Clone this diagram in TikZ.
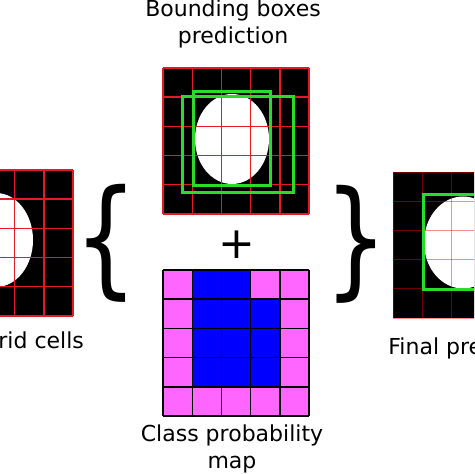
\documentclass[tikz,border=0pt]{standalone}
\usepackage{fontspec}
\setmainfont{DejaVu Sans}
\definecolor{boxgreen}{RGB}{40,220,40}
\definecolor{cellpink}{RGB}{255,102,255}
\definecolor{cellblue}{RGB}{0,0,255}
\definecolor{gridred}{RGB}{230,25,40}
\tikzset{
  gridline/.style={gridred,line width=.7pt},
  fadeline/.style={red,line width=.45pt,opacity=.45},
  greenbox/.style={boxgreen,line width=1.5pt},
  caption/.style={font=\fontsize{11}{13.8}\selectfont,align=center,inner sep=0pt},
  bracesign/.style={font=\fontsize{64}{64}\selectfont,inner sep=0pt,xscale=.78}
}
\begin{document}
\begin{tikzpicture}[x=.5pt,y=-.5pt]
\clip (0,0) rectangle (474,474);
\fill[white] (0,0) rectangle (474,474);
% grid cells
\fill[black] (-73,170) rectangle (73,316);
\fill[white] (-4,240) ellipse (37 and 47);
\foreach \i in {0,...,5} {
  \draw[gridline] (-73+29.2*\i,170) -- (-73+29.2*\i,316);
  \draw[gridline] (-73,170+29.2*\i) -- (73,170+29.2*\i);
}
\node[caption,anchor=base west] (gridtxt) at (-19,348) {Grid cells};
% bounding boxes
\fill[black] (163,68) rectangle (309,214);
\fill[white] (232,139) ellipse (37 and 45);
\foreach \i in {0,...,5} {
  \draw[gridline] (163+29.2*\i,68) -- (163+29.2*\i,214);
  \draw[gridline] (163,68+29.2*\i) -- (309,68+29.2*\i);
}
\draw[greenbox] (193,92) rectangle (270,186);
\draw[greenbox] (182,97) rectangle (293,193);
\node[caption,anchor=north] (bboxtxt) at (233,-1) {Bounding boxes\\prediction};
% class probability map
\fill[cellpink] (163,270) rectangle (309,416);
\fill[cellblue] (192.2,270) rectangle (250.6,299.2);
\fill[cellblue] (192.2,299.2) rectangle (279.8,386.8);
\foreach \i in {0,...,5} {
  \draw[black,line width=.7pt] (163+29.2*\i,270) -- (163+29.2*\i,416);
  \draw[black,line width=.7pt] (163,270+29.2*\i) -- (309,270+29.2*\i);
}
\node[caption,anchor=north] (classtxt) at (232,424) {Class probability\\map};
\node[font=\fontsize{22}{22}\selectfont,inner sep=0pt] (plus) at (237,245) {+};
\node[bracesign] (lbrace) at (106,243) {\{};
\node[bracesign] (rbrace) at (356,244) {\}};
% final prediction
\fill[black] (393,172) rectangle (540,318);
\fill[white] (463,242.5) ellipse (39 and 46);
\foreach \i in {0,...,5} {
  \draw[fadeline] (393+29.2*\i,172) -- (393+29.2*\i,318);
  \draw[fadeline] (393,172+29.2*\i) -- (540,172+29.2*\i);
}
\draw[greenbox] (423,195) rectangle (503,290);
\node[caption,anchor=base west] (finaltxt) at (388,354) {Final prediction};
\end{tikzpicture}
\end{document}
